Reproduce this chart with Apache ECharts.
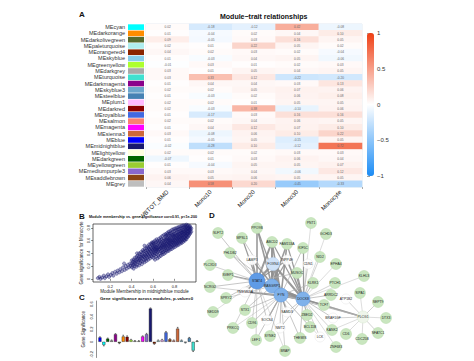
<!DOCTYPE html>
<html><head><meta charset="utf-8">
<script src="https://cdn.jsdelivr.net/npm/echarts@6/dist/echarts.min.js"></script>
<style>html,body{margin:0;padding:0;background:#fff}#c{width:474px;height:361px}</style>
</head><body><div id="c"></div>
<script>
// ---------- Panel A data ----------
const modules = ['cyan','darkorange','darkolivegreen','paleturquoise','orangered4','skyblue','greenyellow','darkgrey','turquoise','darkmagenta','skyblue3','steelblue','plum1','darkred','royalblue','salmon','magenta','sienna3','blue','midnightblue','lightyellow','darkgreen','yellowgreen','mediumpurple3','saddlebrown','grey'];
const moduleHex = {cyan:'#00FFFF',darkorange:'#FF8C00',darkolivegreen:'#556B2F',paleturquoise:'#AFEEEE',orangered4:'#8B2500',skyblue:'#87CEEB',greenyellow:'#ADFF2F',darkgrey:'#A9A9A9',turquoise:'#40E0D0',darkmagenta:'#8B008B',skyblue3:'#6CA6CD',steelblue:'#4682B4',plum1:'#FFBBFF',darkred:'#8B0000',royalblue:'#4169E1',salmon:'#FA8072',magenta:'#FF00FF',sienna3:'#CD6839',blue:'#0000FF',midnightblue:'#191970',lightyellow:'#FFFFE0',darkgreen:'#006400',yellowgreen:'#9ACD32',mediumpurple3:'#8968CD',saddlebrown:'#8B4513',grey:'#BEBEBE'};
const traits = ['WBTOT_BMD','Mono10','Mono20','Mono30','Monocyte'];
const corBMD      = [0.02,0.01,0.09,0.02,0.04,0.01,-0.01,0.03,0.03,0.01,0.02,0.01,0.02,0.02,0.01,0.02,0.01,0.03,0.01,-0.02,0.02,-0.07,0.01,0.03,0.06,0.04];
const corMono10   = [-0.18,-0.04,-0.05,0.01,0.02,-0.03,0.03,0.01,0.33,0.04,0.02,-0.03,0.02,-0.03,-0.17,0.02,0.04,-0.08,-0.05,-0.28,0.02,0.01,-0.04,0.03,0.05,0.58];
const corMono20   = [-0.12,0.02,0.03,0.22,0.03,0.04,0.01,0.05,0.12,0.04,0.05,0.02,0.01,0.38,0.03,0.04,0.12,0.06,0.05,0.10,0.02,0.03,0.05,0.04,0.06,0.20];
const corMono30   = [0.42,0.04,0.16,0.05,0.02,0.05,0.02,0.04,-0.22,0.03,0.07,0.06,0.05,-0.10,0.16,0.06,0.07,0.10,-0.15,-0.12,0.03,0.06,0.05,-0.06,0.05,-0.45];
const corMonocyte = [-0.08,0.10,0.05,0.02,-0.04,-0.06,0.03,0.05,-0.20,0.13,0.06,0.08,0.05,0.06,0.16,0.05,0.10,0.22,0.05,0.72,0.03,0.04,0.07,0.12,0.05,-0.33];

// ---------- Panel B data ----------
const bPoints = [
[0.085,0.01],[0.10,0.03],[0.11,0.00],[0.125,0.02],[0.14,0.05],[0.15,0.01],[0.165,0.04],[0.18,0.07],[0.19,0.03],[0.205,0.06],
[0.22,0.09],[0.23,0.05],[0.245,0.11],[0.26,0.08],[0.27,0.13],[0.285,0.10],[0.295,0.15],[0.31,0.12],[0.32,0.18],[0.335,0.14],
[0.345,0.20],[0.355,0.16],[0.365,0.22],[0.375,0.18],[0.385,0.24],[0.39,0.20],[0.33,0.24],[0.45,0.40],[0.52,0.52],
[0.402,0.18],[0.402,0.24],[0.402,0.29],[0.411,0.21],[0.411,0.27],[0.419,0.16],[0.419,0.23],[0.419,0.30],[0.428,0.20],[0.428,0.26],[0.428,0.33],
[0.436,0.24],[0.436,0.29],[0.445,0.19],[0.445,0.27],[0.445,0.34],[0.453,0.22],[0.453,0.30],[0.453,0.36],[0.462,0.26],[0.462,0.32],
[0.470,0.21],[0.470,0.29],[0.470,0.35],[0.470,0.40],[0.479,0.25],[0.479,0.31],[0.479,0.38],[0.487,0.28],[0.487,0.34],[0.487,0.42],
[0.496,0.23],[0.496,0.32],[0.496,0.37],[0.504,0.27],[0.504,0.35],[0.504,0.41],[0.504,0.45],[0.513,0.30],[0.513,0.36],[0.513,0.43],
[0.521,0.26],[0.521,0.33],[0.521,0.39],[0.521,0.47],[0.530,0.31],[0.530,0.37],[0.530,0.44],[0.538,0.28],[0.538,0.35],[0.538,0.41],[0.538,0.48],
[0.547,0.33],[0.547,0.39],[0.547,0.45],[0.547,0.51],[0.555,0.30],[0.555,0.37],[0.555,0.43],[0.555,0.49],[0.564,0.35],[0.564,0.41],[0.564,0.47],[0.564,0.54],
[0.572,0.32],[0.572,0.39],[0.572,0.45],[0.572,0.51],[0.581,0.36],[0.581,0.43],[0.581,0.48],[0.581,0.55],[0.589,0.34],[0.589,0.40],[0.589,0.46],[0.589,0.53],[0.589,0.57],
[0.597,0.38],[0.597,0.44],[0.597,0.50],[0.597,0.56],
[0.605,0.33],[0.605,0.41],[0.605,0.47],[0.605,0.52],[0.605,0.58],[0.612,0.37],[0.612,0.44],[0.612,0.49],[0.612,0.55],
[0.618,0.30],[0.618,0.40],[0.618,0.46],[0.618,0.51],[0.618,0.60],[0.626,0.35],[0.626,0.43],[0.626,0.48],[0.626,0.54],[0.626,0.57],
[0.633,0.39],[0.633,0.45],[0.633,0.50],[0.633,0.62],[0.641,0.32],[0.641,0.42],[0.641,0.47],[0.641,0.53],[0.641,0.59],
[0.648,0.37],[0.648,0.44],[0.648,0.49],[0.648,0.56],[0.655,0.34],[0.655,0.46],[0.655,0.51],[0.655,0.58],[0.655,0.63],
[0.663,0.40],[0.663,0.47],[0.663,0.53],[0.663,0.60],[0.671,0.36],[0.671,0.43],[0.671,0.49],[0.671,0.55],[0.671,0.65],
[0.678,0.41],[0.678,0.48],[0.678,0.52],[0.678,0.58],[0.678,0.62],[0.686,0.38],[0.686,0.45],[0.686,0.51],[0.686,0.56],[0.686,0.67],
[0.693,0.42],[0.693,0.49],[0.693,0.54],[0.693,0.60],[0.701,0.39],[0.701,0.46],[0.701,0.52],[0.701,0.57],[0.701,0.63],[0.701,0.69],
[0.708,0.44],[0.708,0.50],[0.708,0.55],[0.708,0.61],[0.716,0.41],[0.716,0.48],[0.716,0.53],[0.716,0.59],[0.716,0.66],[0.716,0.70],
[0.723,0.45],[0.723,0.51],[0.723,0.56],[0.723,0.62],[0.723,0.68],[0.731,0.43],[0.731,0.49],[0.731,0.55],[0.731,0.60],[0.731,0.65],[0.731,0.72],
[0.738,0.47],[0.738,0.53],[0.738,0.58],[0.738,0.63],[0.738,0.70],[0.746,0.44],[0.746,0.51],[0.746,0.56],[0.746,0.61],[0.746,0.67],[0.746,0.74],
[0.753,0.48],[0.753,0.54],[0.753,0.59],[0.753,0.64],[0.753,0.71],[0.761,0.46],[0.761,0.52],[0.761,0.57],[0.761,0.62],[0.761,0.68],[0.761,0.75],
[0.768,0.50],[0.768,0.55],[0.768,0.60],[0.768,0.66],[0.768,0.72],[0.776,0.47],[0.776,0.53],[0.776,0.58],[0.776,0.63],[0.776,0.69],[0.776,0.77],
[0.783,0.51],[0.783,0.57],[0.783,0.61],[0.783,0.67],[0.783,0.73],[0.791,0.49],[0.791,0.55],[0.791,0.60],[0.791,0.65],[0.791,0.70],[0.791,0.78],
[0.798,0.53],[0.798,0.58],[0.798,0.63],[0.798,0.68],[0.798,0.75],[0.806,0.50],[0.806,0.56],[0.806,0.61],[0.806,0.66],[0.806,0.71],[0.806,0.79],
[0.813,0.54],[0.813,0.59],[0.813,0.64],[0.813,0.69],[0.813,0.76],[0.821,0.52],[0.821,0.57],[0.821,0.62],[0.821,0.67],[0.821,0.73],[0.821,0.80],
[0.828,0.55],[0.828,0.60],[0.828,0.65],[0.828,0.70],[0.828,0.77],[0.836,0.53],[0.836,0.59],[0.836,0.64],[0.836,0.69],[0.836,0.74],[0.836,0.81],
[0.843,0.57],[0.843,0.62],[0.843,0.66],[0.843,0.71],[0.843,0.78],[0.851,0.55],[0.851,0.60],[0.851,0.65],[0.851,0.70],[0.851,0.75],[0.851,0.82],
[0.858,0.58],[0.858,0.63],[0.858,0.68],[0.858,0.73],[0.858,0.79],[0.866,0.56],[0.866,0.62],[0.866,0.67],[0.866,0.72],[0.866,0.76],[0.866,0.83],
[0.873,0.60],[0.873,0.65],[0.873,0.69],[0.873,0.74],[0.873,0.80],[0.881,0.58],[0.881,0.63],[0.881,0.68],[0.881,0.73],[0.881,0.77],[0.881,0.84],
[0.888,0.61],[0.888,0.66],[0.888,0.71],[0.888,0.75],[0.888,0.81],[0.896,0.60],[0.896,0.65],[0.896,0.70],[0.896,0.74],[0.896,0.79],[0.896,0.84],
[0.903,0.63],[0.903,0.68],[0.903,0.72],[0.903,0.77],[0.903,0.82],[0.911,0.62],[0.911,0.67],[0.911,0.71],[0.911,0.76],[0.911,0.80],[0.911,0.85],
[0.918,0.65],[0.918,0.70],[0.918,0.74],[0.918,0.78],[0.918,0.83],[0.926,0.66],[0.926,0.71],[0.926,0.75],[0.926,0.79],[0.926,0.84],
[0.933,0.68],[0.933,0.73],[0.933,0.77],[0.933,0.81],[0.941,0.70],[0.941,0.75],[0.941,0.79],[0.941,0.83],[0.948,0.72],[0.948,0.77],[0.948,0.81],
[0.956,0.74],[0.956,0.79]
];
const bXTicks = [0.2,0.4,0.6,0.8];
const bYTicks = [0,0.2,0.4,0.6,0.8];

// ---------- Panel C data ----------
const cModules = ['blue','cyan','darkgreen','darkgrey','darkmagenta','darkolivegreen','darkorange','darkred','greenyellow','grey','lightyellow','magenta','mediumpurple3','midnightblue','orangered4','paleturquoise','plum1','royalblue','saddlebrown','salmon','sienna3','skyblue','skyblue3','steelblue','turquoise','yellowgreen'];
const gsMeans = [0.07,-0.05,0.05,0.02,0.12,-0.02,0.085,0.08,0.03,0.015,0.01,0.085,0.12,0.53,-0.03,0.02,0.03,0.15,0.04,0.02,0.21,0.02,-0.01,0.06,-0.14,0.01];
const gsErr   = [0.01,0.015,0.01,0.01,0.01,0.01,0.02,0.015,0.01,0.005,0.01,0.01,0.015,0.01,0.01,0.01,0.01,0.015,0.01,0.01,0.02,0.01,0.01,0.01,0.015,0.01];
const cYTicks = [-0.2,0,0.2,0.4,0.6];

// ---------- Panel D data ----------
const netNodes = [
['SLFT2',218,233,'g'],['MPSL1',242,238,'g'],['PPO9B',257,228,'g'],['ABCD2',272,242,'g'],['FAM153A',287,244,'g'],
['KIF5C',303,248,'g'],['PNT1',311,223,'g'],['GCHD3',326,234,'g'],['NID2',320,257,'g'],['EPHA4',336,264,'g'],
['PHLDB2',230,253,'g'],['PLCXD3',210,265,'g'],['SVEP1',228,275,'g'],['NCRG2',210,287,'g'],['SPRY2',226,298,'g'],
['NEDD9',213,312,'g'],['PRKCQ',233,328,'g'],['LAMP3',252,260,'w'],['FOXN4',273,264,'lb'],['INPP4E',287,260,'w'],
['CDN1',308,264,'w'],['MUSOC',297,273,'g'],['STAT4',257,281,'B'],['RASGRP1',272,286,'b'],['FYN',281,295,'b'],
['DOCK8',303,299,'b'],['KLRK1',313,283,'g'],['PTCH1',335,283,'g'],['KLHL3',364,276,'g'],['ARRDC2',331,295,'g'],
['SIPA1',360,293,'g'],['ATP1B2',346,299,'w'],['SEPT9',378,302,'g'],['TCF7',324,305,'g'],['ZBED2',307,315,'g'],
['PLCG1',363,317,'pw'],['DTX3',386,318,'g'],['BRAF1GF',333,318,'w'],['TMEM63A',245,292,'w'],['STX1',245,310,'g'],
['SAMD3',287,312,'w'],['CD96',252,323,'g'],['SOCS4',267,320,'w'],['NMT2',280,328,'w'],['BCL11B',310,327,'g'],
['KANK2',332,330,'g'],['CD6',346,334,'g'],['NFATC1',378,333,'g'],['LEF1',256,340,'g'],['SYNE2',270,336,'g'],
['THEMIS',300,338,'g'],['LCK',320,337,'w'],['CDC25B',362,339,'g'],['ZNF683',336,347,'g'],['BRAP',285,351,'g']
];
const netEdges = [
['STAT4','RASGRP1',4],['STAT4','FYN',4],['STAT4','DOCK8',3.5],['RASGRP1','FYN',4],['RASGRP1','DOCK8',3.5],['FYN','DOCK8',4],
['FOXN4','STAT4',3],['FOXN4','RASGRP1',3],['FOXN4','FYN',3],['FOXN4','DOCK8',2.5],
['PPO9B','STAT4',2],['PPO9B','RASGRP1',2],['PPO9B','FYN',1.5],
['ABCD2','STAT4',2.5],['ABCD2','RASGRP1',2.5],['ABCD2','FYN',2],['ABCD2','DOCK8',1.5],
['FAM153A','RASGRP1',2],['FAM153A','FYN',2],['FAM153A','DOCK8',1.5],
['MPSL1','STAT4',1.5],['MPSL1','RASGRP1',1],['KIF5C','DOCK8',1.5],['KIF5C','FYN',1],
['LAMP3','STAT4',2],['LAMP3','FYN',1.5],['INPP4E','DOCK8',2],['INPP4E','STAT4',1.5],['INPP4E','RASGRP1',1.5],
['CDN1','DOCK8',1],['MUSOC','DOCK8',1.5],['MUSOC','STAT4',1],
['SLFT2','STAT4',1],['PNT1','DOCK8',0.6],['GCHD3','DOCK8',0.6],['NID2','DOCK8',0.8],['EPHA4','DOCK8',0.6],
['PHLDB2','STAT4',1.2],['PHLDB2','RASGRP1',1],['PLCXD3','STAT4',0.8],
['SVEP1','STAT4',1.5],['SVEP1','RASGRP1',1],['NCRG2','STAT4',1],['NCRG2','FYN',0.8],
['SPRY2','STAT4',1],['SPRY2','RASGRP1',0.8],['NEDD9','STAT4',0.6],['PRKCQ','STAT4',0.8],['PRKCQ','FYN',0.6],
['TMEM63A','STAT4',2],['TMEM63A','FYN',1.5],['TMEM63A','DOCK8',1.5],
['STX1','RASGRP1',1],['STX1','FYN',1],['SAMD3','FYN',1.5],['SAMD3','DOCK8',1],
['CD96','STAT4',0.8],['CD96','FYN',1],['SOCS4','FYN',1.5],['SOCS4','STAT4',1],
['NMT2','FYN',1],['NMT2','DOCK8',1],['BCL11B','DOCK8',1],['BCL11B','FYN',0.8],
['LEF1','FYN',1],['LEF1','STAT4',0.8],['SYNE2','FYN',1],['THEMIS','DOCK8',1],['THEMIS','FYN',1],
['LCK','DOCK8',0.8],['LCK','FYN',0.6],['ZNF683','DOCK8',0.6],['BRAP','FYN',0.8],['BRAP','STAT4',0.6],
['KLRK1','DOCK8',1.2],['KLRK1','FYN',1],['PTCH1','DOCK8',0.8],['ARRDC2','DOCK8',1],
['TCF7','DOCK8',1.5],['TCF7','FYN',1],['ZBED2','DOCK8',1.2],['BRAF1GF','DOCK8',1],['KANK2','DOCK8',0.8],
['DOCK8','PLCG1',2],['FYN','PLCG1',1.2],['KLHL3','DOCK8',0.6],
['PLCG1','SEPT9',0.8],['PLCG1','DTX3',0.6],['PLCG1','NFATC1',0.8],['PLCG1','CDC25B',0.6],['PLCG1','CD6',0.6],
['PLCG1','KANK2',0.6],['PLCG1','SIPA1',0.6],['PLCG1','ATP1B2',0.8],['PLCG1','BRAF1GF',0.8],['PLCG1','TCF7',0.6]
];

// ---------- build ----------
const corCols = [corBMD, corMono10, corMono20, corMono30, corMonocyte];
const heatData = [];
corCols.forEach((col, xi) => col.forEach((v, yi) => heatData.push([xi, yi, v])));
const FONT = 'Liberation Sans, Arial, sans-serif';
const nodeStyle = {
  g:  {size: 11, color: '#c9e6bf', border: '#b5d9a9'},
  w:  {size: 10, color: 'rgba(255,255,255,0.9)', border: '#e4e4e4'},
  pw: {size: 12, color: '#eef5ea', border: '#d6e8cf'},
  lb: {size: 13, color: '#cfe2f8', border: '#b7d2f0'},
  b:  {size: 14, color: '#7fb1ea', border: '#5f99df'},
  B:  {size: 16, color: '#5f9be6', border: '#4a86d6'}
};
const minus = v => (v < 0 ? '\u2212' + Math.abs(v) : String(v));

const chart = echarts.init(document.getElementById('c'), null, {renderer: 'svg'});
chart.setOption({
  animation: false,
  textStyle: {fontFamily: FONT},
  grid: [
    {left: 128, top: 24, width: 16, height: 163},
    {left: 146, top: 24, width: 216, height: 163, show: true, borderColor: '#cdd8e4', borderWidth: 0.6},
    {left: 367, top: 33, width: 7, height: 143},
    {left: 93, top: 224, width: 103, height: 58, show: true, borderColor: '#222', borderWidth: 0.7},
    {left: 98, top: 301, width: 101, height: 56.5},
    {left: 205, top: 218, width: 190, height: 140}
  ],
  xAxis: [
    {gridIndex: 0, type: 'value', min: 0, max: 1, show: false},
    {gridIndex: 1, type: 'category', data: traits, position: 'bottom',
     axisLine: {show: false}, axisTick: {show: true, length: 2, lineStyle: {color: '#555', width: 0.5}},
     axisLabel: {rotate: 45, fontSize: 6, color: '#222', margin: 4}},
    {gridIndex: 2, type: 'value', min: 0, max: 1, show: false},
    {gridIndex: 3, type: 'value', min: 0.04, max: 1.0, splitLine: {show: false},
     axisLine: {show: false}, axisTick: {length: 2, customValues: bXTicks, lineStyle: {color: '#222', width: 0.5}},
     axisLabel: {fontSize: 4, color: '#222', margin: 2.5, customValues: bXTicks},
     name: 'Module Membership in midnightblue module', nameLocation: 'middle', nameGap: 7,
     nameTextStyle: {fontSize: 4.5, color: '#222'}},
    {gridIndex: 4, type: 'category', data: cModules, show: false},
    {gridIndex: 5, type: 'value', min: 205, max: 395, show: false}
  ],
  yAxis: [
    {gridIndex: 0, type: 'category', data: modules, inverse: true,
     axisLine: {show: false}, axisTick: {show: false},
     axisLabel: {interval: 0, fontSize: 5.5, color: '#333', margin: 3, formatter: m => 'ME' + m}},
    {gridIndex: 1, type: 'category', data: modules, inverse: true, show: false},
    {gridIndex: 2, type: 'value', min: -1, max: 1, interval: 0.5, position: 'right',
     splitLine: {show: false}, axisLine: {show: false},
     axisTick: {show: true, length: 3, lineStyle: {color: '#444', width: 0.5}},
     axisLabel: {fontSize: 6, color: '#333', margin: 3, formatter: minus}},
    {gridIndex: 3, type: 'value', min: -0.05, max: 0.86, splitLine: {show: false},
     axisLine: {show: false}, axisTick: {length: 2, customValues: bYTicks, lineStyle: {color: '#222', width: 0.5}},
     axisLabel: {fontSize: 4, color: '#222', margin: 2.5, rotate: 90, customValues: bYTicks},
     name: 'Gene significance for Monocyte', nameLocation: 'middle', nameGap: 9,
     nameTextStyle: {fontSize: 4.5, color: '#222'}},
    {gridIndex: 4, type: 'value', min: -0.25, max: 0.65, offset: 2, splitLine: {show: false},
     axisLine: {show: true, lineStyle: {color: '#222', width: 0.5}},
     axisTick: {length: 2, customValues: cYTicks, lineStyle: {color: '#222', width: 0.5}},
     axisLabel: {fontSize: 4, color: '#222', margin: 2.5, rotate: 90, customValues: cYTicks},
     name: 'Gene Significance', nameLocation: 'middle', nameGap: 10,
     nameTextStyle: {fontSize: 4.5, color: '#222'}},
    {gridIndex: 5, type: 'value', min: 218, max: 358, inverse: true, show: false}
  ],
  visualMap: {
    type: 'continuous', min: -1, max: 1, seriesIndex: 1, calculable: false,
    left: 367, top: 33, itemWidth: 7, itemHeight: 143, padding: 0,
    inRange: {color: ['#1b8cf5', '#ffffff', '#ef3f14']}
  },
  graphic: [
    {type: 'text', left: 79, top: 10, style: {text: 'A', font: 'bold 8px ' + FONT, fill: '#111'}},
    {type: 'text', left: 220, top: 13, style: {text: 'Module\u2212trait relationships', font: 'bold 7px ' + FONT, fill: '#111'}},
    {type: 'text', left: 79, top: 212, style: {text: 'B', font: 'bold 8px ' + FONT, fill: '#111'}},
    {type: 'text', left: 89, top: 215, style: {text: 'Module membership vs. gene significance cor=0.91, p<1e-200', font: 'bold 3.7px ' + FONT, fill: '#111'}},
    {type: 'text', left: 79, top: 293, style: {text: 'C', font: 'bold 8px ' + FONT, fill: '#111'}},
    {type: 'text', left: 100, top: 296, style: {text: 'Gene significance across modules, p-value=0', font: 'bold 4.3px ' + FONT, fill: '#111'}},
    {type: 'text', left: 209, top: 211, style: {text: 'D', font: 'bold 8px ' + FONT, fill: '#111'}}
  ],
  series: [
    {type: 'bar', xAxisIndex: 0, yAxisIndex: 0, barWidth: '90%', silent: true,
     data: modules.map(m => ({value: 1, itemStyle: {color: moduleHex[m]}}))},
    {type: 'heatmap', xAxisIndex: 1, yAxisIndex: 1, data: heatData,
     label: {show: true, fontSize: 3.2, color: '#666', formatter: p => p.value[2].toFixed(2)}},
    {type: 'scatter', xAxisIndex: 2, yAxisIndex: 2, data: []},
    {type: 'scatter', xAxisIndex: 3, yAxisIndex: 3, data: bPoints, symbolSize: 3.2,
     itemStyle: {color: 'rgba(25,25,112,0.5)', borderColor: '#191970', borderWidth: 0.45}},
    {type: 'bar', xAxisIndex: 4, yAxisIndex: 4, barWidth: '78%',
     data: gsMeans.map((v, i) => ({value: v, itemStyle: {color: moduleHex[cModules[i]], borderColor: '#111', borderWidth: 0.4}}))},
    {type: 'custom', xAxisIndex: 4, yAxisIndex: 4, encode: {x: 0, y: 1},
     data: gsMeans.map((v, i) => [i, v, gsErr[i]]),
     renderItem: (params, api) => {
       const x = api.value(0), v = api.value(1), e = api.value(2);
       const s = v < 0 ? -1 : 1;
       const p0 = api.coord([x, v]);
       const p1 = api.coord([x, v + s * e]);
       const st = {stroke: '#111', lineWidth: 0.5};
       return {type: 'group', children: [
         {type: 'line', shape: {x1: p0[0], y1: p0[1], x2: p1[0], y2: p1[1]}, style: st},
         {type: 'line', shape: {x1: p1[0] - 0.8, y1: p1[1], x2: p1[0] + 0.8, y2: p1[1]}, style: st}
       ]};
     }},
    {type: 'graph', layout: 'none', coordinateSystem: 'cartesian2d', xAxisIndex: 5, yAxisIndex: 5,
     label: {show: true, position: 'inside', fontSize: 3.4, color: '#222'},
     lineStyle: {color: '#9b9b9b', opacity: 0.9},
     data: netNodes.map(n => ({name: n[0], value: [n[1], n[2]], symbolSize: nodeStyle[n[3]].size,
       itemStyle: {color: nodeStyle[n[3]].color, borderColor: nodeStyle[n[3]].border, borderWidth: 0.5}})),
     links: netEdges.map(e => ({source: e[0], target: e[1], lineStyle: {width: e[2] * 0.8, color: e[2] >= 1.5 ? '#8f8f8f' : '#b0b0b0'}}))}
  ]
});
</script></body></html>
